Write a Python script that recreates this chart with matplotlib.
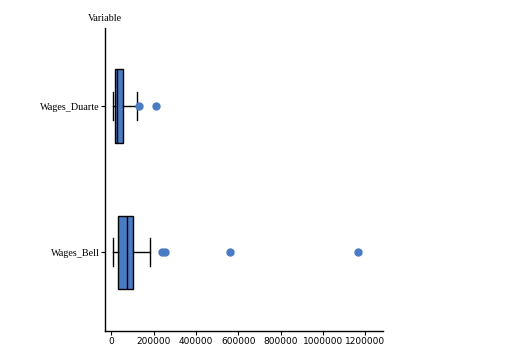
import matplotlib

matplotlib.use("Agg")
import matplotlib.pyplot as plt

# five-number summaries
categories = ["Wages_Bell", "Wages_Duarte"]
whisker_low = [9400, 9400]
q1 = [33000, 17000]
median = [75600, 25000]
q3 = [104000, 56700]
whisker_high = [184000, 122800]
outliers = [
    [237000, 254000, 560700, 1165000],
    [131000, 212600],
]
x_ticks = [0, 200000, 400000, 600000, 800000, 1000000, 1200000]

box_color = "#4a7cc4"

stats = []
for i, name in enumerate(categories):
    stats.append(
        {
            "label": name,
            "whislo": whisker_low[i],
            "q1": q1[i],
            "med": median[i],
            "q3": q3[i],
            "whishi": whisker_high[i],
            "fliers": outliers[i],
        }
    )

fig = plt.figure(figsize=(5.13, 3.6), dpi=100)
ax = fig.add_axes([0.2047, 0.0806, 0.5419, 0.8416])

ax.bxp(
    stats,
    positions=[0, 1],
    vert=False,
    widths=0.5,
    patch_artist=True,
    boxprops=dict(facecolor=box_color, edgecolor="black", linewidth=1.0),
    medianprops=dict(color="black", linewidth=1.0),
    whiskerprops=dict(color="black", linewidth=1.0),
    capprops=dict(color="black", linewidth=1.0),
    capwidths=0.19,
    flierprops=dict(marker="o", markerfacecolor=box_color, markeredgecolor=box_color, markersize=5),
)

ax.set_xlim(-30000, 1283000)
ax.set_ylim(-0.54, 1.534)
ax.set_xticks(x_ticks, [str(v) for v in x_ticks], fontsize=6.5, family="DejaVu Sans")
ax.set_yticks([0, 1], categories, fontsize=7.3, family="Liberation Serif")
ax.tick_params(axis="both", length=3, width=0.8, pad=1)

for side in ("top", "right"):
    ax.spines[side].set_visible(False)
for side in ("left", "bottom"):
    ax.spines[side].set_linewidth(1.0)

ax.text(0.0, 1.033, "Variable", transform=ax.transAxes, ha="center", va="center",
        fontsize=7.3, family="Liberation Serif")

fig.savefig("out.png", dpi=100)
